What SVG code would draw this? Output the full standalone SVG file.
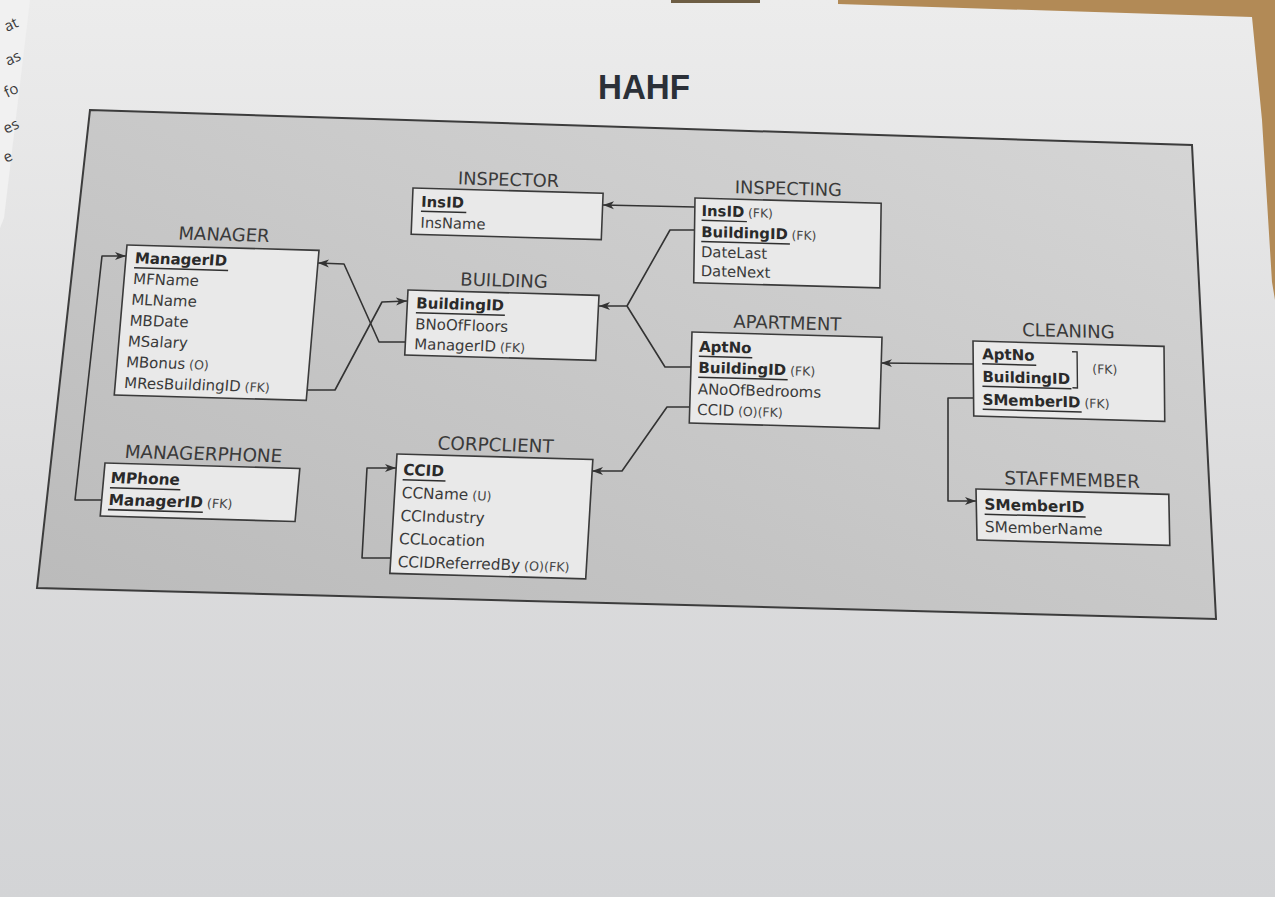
<svg xmlns="http://www.w3.org/2000/svg" width="1275" height="897" viewBox="0 0 1275 897">
<style>
.title{font-family:"DejaVu Sans",Verdana,sans-serif;font-size:18px;fill:#3a3a3a;text-anchor:middle}
.att{font-family:"DejaVu Sans",Verdana,sans-serif;font-size:15px;fill:#3a3a3a}
.key{font-weight:bold;fill:#2a2a2a}
.sm{font-size:12.5px;font-weight:normal;fill:#474747}
.ul{stroke:#2f2f2f;stroke-width:1.5}
.box{fill:#e9e9e9;stroke:#3a3a3a;stroke-width:1.6}
.conn{fill:none;stroke:#333;stroke-width:1.6;stroke-linejoin:round}
.arrow{marker-end:url(#arr)}
.frag{font-family:"Open Sans","DejaVu Sans",sans-serif;font-size:15px;fill:#3a3a3a}
</style>
<defs>
<linearGradient id="page" x1="0" y1="0" x2="0" y2="1">
<stop offset="0" stop-color="#ececec"/>
<stop offset="0.55" stop-color="#dcdcdd"/>
<stop offset="1" stop-color="#d3d4d6"/>
</linearGradient>
<linearGradient id="panel" x1="0" y1="1" x2="1" y2="0">
<stop offset="0" stop-color="#bababa"/>
<stop offset="1" stop-color="#d6d6d6"/>
</linearGradient>
<marker id="arr" markerUnits="userSpaceOnUse" markerWidth="12" markerHeight="10" refX="11" refY="4.5" orient="auto">
<path d="M0,0.5 L11,4.5 L0,8.5 L3,4.5 Z" fill="#333"/>
</marker>
</defs>

<rect x="0" y="0" width="1275" height="897" fill="url(#page)"/>
<g id="background">
<polygon points="838,0 1275,0 1275,300 1272,282 1262,120 1252,17 838,4" fill="#b28a56"/>
<polygon points="671,0 760,0 760,3 671,3" fill="#6d5d44"/>
<polygon points="0,0 30,0 4,218 0,228" fill="#f1f1f1"/>
<text class="frag" x="7" y="32" transform="rotate(-25 7 32)">at</text>
<text class="frag" x="8" y="66" transform="rotate(-25 8 66)">as</text>
<text class="frag" x="7" y="98" transform="rotate(-25 7 98)">fo</text>
<text class="frag" x="6" y="134" transform="rotate(-25 6 134)">es</text>
<text class="frag" x="6" y="163" transform="rotate(-25 6 163)">e</text>
</g>

<text x="644" y="99" font-family="'Liberation Sans',Arial,sans-serif" font-weight="bold" font-size="35" fill="#2b3038" text-anchor="middle" textLength="92" lengthAdjust="spacingAndGlyphs">HAHF</text>

<polygon id="panel" points="90,110 1192,145 1216,619 37,588" fill="url(#panel)" stroke="#3c3c3c" stroke-width="2"/>

<g id="connectors">
<path class="conn arrow" d="M695,207 L603,205"/>
<path class="conn arrow" d="M695,230 L670,230 L627,306 L599,306"/>
<path class="conn" d="M691,367 L665,367 L627,306"/>
<path class="conn arrow" d="M406,342 L379,342 L344,264 L318,263"/>
<path class="conn arrow" d="M307,390 L335,390 L382,302 L407,301"/>
<path class="conn arrow" d="M102,500 L75,500 L102,256 L126,256"/>
<path class="conn arrow" d="M691,407 L667,407 L622,471 L592,471"/>
<path class="conn arrow" d="M391,558 L362,558 L367,468 L396,468"/>
<path class="conn arrow" d="M973,364 L881,363"/>
<path class="conn arrow" d="M973,398 L948,398 L948,501 L976,501"/>
</g>

<g id="inspector" transform="matrix(0.985 0.0276 -0.039 0.985 413 188)">
<rect class="box" width="193" height="47"/>
<text class="title" x="96.5" y="-5">INSPECTOR</text>
<text class="att key" x="9" y="18.8">InsID</text>
<line class="ul" x1="9" y1="23.3" x2="55" y2="23.3"/>
<text class="att" x="9" y="40">InsName</text>
</g>

<g id="inspecting" transform="matrix(0.985 0.0276 -0.0148 0.985 695 198)">
<rect class="box" width="189" height="86"/>
<text class="title" x="94.5" y="-6">INSPECTING</text>
<text class="att key" x="7" y="18">InsID<tspan class="sm"> (FK)</tspan></text>
<line class="ul" x1="7" y1="22.5" x2="53" y2="22.5"/>
<text class="att key" x="7" y="39.4">BuildingID<tspan class="sm"> (FK)</tspan></text>
<line class="ul" x1="7" y1="43.9" x2="97" y2="43.9"/>
<text class="att" x="7" y="59.7">DateLast</text>
<text class="att" x="7" y="79">DateNext</text>
</g>

<g id="manager" transform="matrix(1 0.028 -0.085 1 127 245)">
<rect class="box" width="192" height="150"/>
<text class="title" x="96" y="-7">MANAGER</text>
<text class="att key" x="9" y="18">ManagerID</text>
<line class="ul" x1="9" y1="22.5" x2="103" y2="22.5"/>
<text class="att" x="9" y="38.8">MFName</text>
<text class="att" x="9" y="59.6">MLName</text>
<text class="att" x="9" y="80.4">MBDate</text>
<text class="att" x="9" y="101.2">MSalary</text>
<text class="att" x="9" y="122">MBonus<tspan class="sm"> (O)</tspan></text>
<text class="att" x="9" y="142.8">MResBuildingID<tspan class="sm"> (FK)</tspan></text>
</g>

<g id="building" transform="matrix(1 0.028 -0.05 1 408 290)">
<rect class="box" width="191" height="65"/>
<text class="title" x="95.5" y="-6">BUILDING</text>
<text class="att key" x="9" y="18">BuildingID</text>
<line class="ul" x1="9" y1="22.5" x2="98" y2="22.5"/>
<text class="att" x="9" y="39">BNoOfFloors</text>
<text class="att" x="9" y="59">ManagerID<tspan class="sm"> (FK)</tspan></text>
</g>

<g id="apartment" transform="matrix(1 0.028 -0.03 1 692 332)">
<rect class="box" width="190" height="91"/>
<text class="title" x="95" y="-5.5">APARTMENT</text>
<text class="att key" x="7.5" y="19.5">AptNo</text>
<line class="ul" x1="7.5" y1="24" x2="61" y2="24"/>
<text class="att key" x="7.5" y="40.5">BuildingID<tspan class="sm"> (FK)</tspan></text>
<line class="ul" x1="7.5" y1="45" x2="97" y2="45"/>
<text class="att" x="7.5" y="62">ANoOfBedrooms</text>
<text class="att" x="7.5" y="82.5">CCID<tspan class="sm"> (O)(FK)</tspan></text>
</g>

<g id="cleaning" transform="matrix(1 0.028 0.01 1 973 341)">
<rect class="box" width="191" height="75"/>
<text class="title" x="95.5" y="-6.5">CLEANING</text>
<text class="att key" x="9" y="18">AptNo</text>
<line class="ul" x1="9" y1="22.5" x2="63" y2="22.5"/>
<text class="att key" x="9" y="40.5">BuildingID</text>
<line class="ul" x1="9" y1="45" x2="98" y2="45"/>
<path d="M99,8 L104,8 L104,44 L99,44" fill="none" stroke="#333" stroke-width="1.4"/>
<text class="att sm" x="119" y="29">(FK)</text>
<text class="att key" x="9" y="63.5">SMemberID<tspan class="sm"> (FK)</tspan></text>
<line class="ul" x1="9" y1="68" x2="108" y2="68"/>
</g>

<g id="managerphone" transform="matrix(1.02 0.0286 -0.092 1.02 105 463)">
<rect class="box" width="191" height="52"/>
<text class="title" x="95.5" y="-5.5">MANAGERPHONE</text>
<text class="att key" x="7" y="19.5">MPhone</text>
<line class="ul" x1="7" y1="24" x2="76" y2="24"/>
<text class="att key" x="7" y="41">ManagerID<tspan class="sm"> (FK)</tspan></text>
<line class="ul" x1="7" y1="45.5" x2="100" y2="45.5"/>
</g>

<g id="corpclient" transform="matrix(1.02 0.0286 -0.061 1.02 397 454)">
<rect class="box" width="192" height="117"/>
<text class="title" x="96" y="-5.5">CORPCLIENT</text>
<text class="att key" x="7" y="20.5">CCID</text>
<line class="ul" x1="7" y1="25" x2="49" y2="25"/>
<text class="att" x="7" y="43">CCName<tspan class="sm"> (U)</tspan></text>
<text class="att" x="7" y="65.5">CCIndustry</text>
<text class="att" x="7" y="88">CCLocation</text>
<text class="att" x="7" y="110.5">CCIDReferredBy<tspan class="sm"> (O)(FK)</tspan></text>
</g>

<g id="staffmember" transform="matrix(1.02 0.0286 0.0204 1.02 976 489)">
<rect class="box" width="189" height="50"/>
<text class="title" x="94.5" y="-5.5">STAFFMEMBER</text>
<text class="att key" x="8" y="20">SMemberID</text>
<line class="ul" x1="8" y1="24.5" x2="107" y2="24.5"/>
<text class="att" x="8" y="42">SMemberName</text>
</g>
</svg>
